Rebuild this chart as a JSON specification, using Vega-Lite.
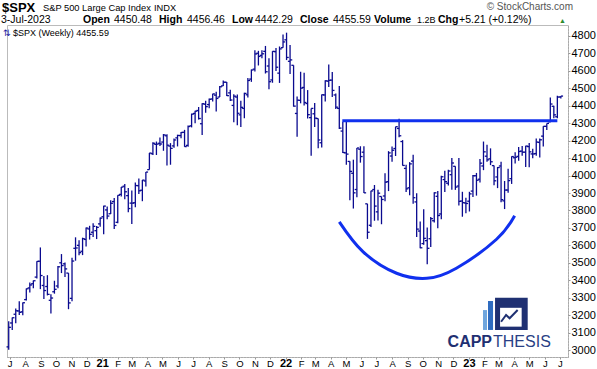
{
  "$schema": "https://vega.github.io/schema/vega-lite/v6.json",
  "width": 561,
  "height": 332,
  "autosize": {"type": "none"},
  "padding": {"left": 7, "top": 25, "right": 29, "bottom": 12},
  "background": "white",
  "config": {
    "view": {"stroke": "#bbbbbb", "strokeWidth": 1},
    "font": "Liberation Sans",
    "text": {"font": "Liberation Sans"}
  },
  "datasets": {
    "spx": [
      {"date":"2020-06-29","open":3018,"high":3165,"low":3001,"close":3130},
      {"date":"2020-07-06","open":3155,"high":3186,"low":3115,"close":3185},
      {"date":"2020-07-13","open":3205,"high":3238,"low":3153,"close":3225},
      {"date":"2020-07-20","open":3224,"high":3280,"low":3201,"close":3216},
      {"date":"2020-07-27","open":3219,"high":3272,"low":3200,"close":3271},
      {"date":"2020-08-03","open":3289,"high":3352,"low":3284,"close":3351},
      {"date":"2020-08-10","open":3356,"high":3387,"low":3330,"close":3373},
      {"date":"2020-08-17","open":3380,"high":3399,"low":3354,"close":3397},
      {"date":"2020-08-24","open":3418,"high":3509,"low":3410,"close":3508},
      {"date":"2020-08-31","open":3509,"high":3588,"low":3349,"close":3427},
      {"date":"2020-09-07","open":3370,"high":3425,"low":3293,"close":3341},
      {"date":"2020-09-14","open":3364,"high":3429,"low":3313,"close":3319},
      {"date":"2020-09-21","open":3285,"high":3320,"low":3209,"close":3298},
      {"date":"2020-09-28","open":3334,"high":3397,"low":3323,"close":3348},
      {"date":"2020-10-05","open":3367,"high":3482,"low":3354,"close":3477},
      {"date":"2020-10-12","open":3500,"high":3550,"low":3441,"close":3484},
      {"date":"2020-10-19","open":3494,"high":3502,"low":3419,"close":3465},
      {"date":"2020-10-26","open":3441,"high":3441,"low":3234,"close":3270},
      {"date":"2020-11-02","open":3296,"high":3529,"low":3279,"close":3510},
      {"date":"2020-11-09","open":3583,"high":3646,"low":3512,"close":3585},
      {"date":"2020-11-16","open":3600,"high":3629,"low":3543,"close":3558},
      {"date":"2020-11-23","open":3566,"high":3644,"low":3544,"close":3638},
      {"date":"2020-11-30","open":3634,"high":3702,"low":3594,"close":3699},
      {"date":"2020-12-07","open":3694,"high":3712,"low":3633,"close":3663},
      {"date":"2020-12-14","open":3675,"high":3726,"low":3648,"close":3709},
      {"date":"2020-12-21","open":3684,"high":3711,"low":3636,"close":3703},
      {"date":"2020-12-28","open":3723,"high":3760,"low":3707,"close":3756},
      {"date":"2021-01-04","open":3764,"high":3827,"low":3663,"close":3825},
      {"date":"2021-01-11","open":3803,"high":3823,"low":3749,"close":3768},
      {"date":"2021-01-18","open":3781,"high":3859,"low":3780,"close":3841},
      {"date":"2021-01-25","open":3851,"high":3871,"low":3694,"close":3714},
      {"date":"2021-02-01","open":3732,"high":3887,"low":3726,"close":3887},
      {"date":"2021-02-08","open":3892,"high":3935,"low":3880,"close":3934},
      {"date":"2021-02-15","open":3939,"high":3951,"low":3864,"close":3907},
      {"date":"2021-02-22","open":3885,"high":3928,"low":3789,"close":3811},
      {"date":"2021-03-01","open":3842,"high":3915,"low":3723,"close":3842},
      {"date":"2021-03-08","open":3844,"high":3960,"low":3819,"close":3943},
      {"date":"2021-03-15","open":3942,"high":3983,"low":3894,"close":3913},
      {"date":"2021-03-22","open":3916,"high":3975,"low":3853,"close":3974},
      {"date":"2021-03-29","open":3969,"high":4020,"low":3937,"close":4020},
      {"date":"2021-04-05","open":4034,"high":4130,"low":4034,"close":4129},
      {"date":"2021-04-12","open":4125,"high":4191,"low":4118,"close":4185},
      {"date":"2021-04-19","open":4179,"high":4195,"low":4118,"close":4180},
      {"date":"2021-04-26","open":4185,"high":4218,"low":4170,"close":4181},
      {"date":"2021-05-03","open":4192,"high":4238,"low":4142,"close":4233},
      {"date":"2021-05-10","open":4228,"high":4237,"low":4057,"close":4174},
      {"date":"2021-05-17","open":4169,"high":4186,"low":4062,"close":4156},
      {"date":"2021-05-24","open":4170,"high":4213,"low":4160,"close":4204},
      {"date":"2021-05-31","open":4216,"high":4234,"low":4167,"close":4230},
      {"date":"2021-06-07","open":4229,"high":4249,"low":4214,"close":4247},
      {"date":"2021-06-14","open":4248,"high":4262,"low":4165,"close":4166},
      {"date":"2021-06-21","open":4173,"high":4287,"low":4165,"close":4281},
      {"date":"2021-06-28","open":4285,"high":4355,"low":4276,"close":4352},
      {"date":"2021-07-05","open":4356,"high":4372,"low":4300,"close":4369},
      {"date":"2021-07-12","open":4373,"high":4393,"low":4321,"close":4327},
      {"date":"2021-07-19","open":4297,"high":4415,"low":4233,"close":4412},
      {"date":"2021-07-26","open":4409,"high":4429,"low":4360,"close":4395},
      {"date":"2021-08-02","open":4407,"high":4441,"low":4386,"close":4437},
      {"date":"2021-08-09","open":4439,"high":4469,"low":4424,"close":4468},
      {"date":"2021-08-16","open":4461,"high":4481,"low":4367,"close":4442},
      {"date":"2021-08-23","open":4450,"high":4513,"low":4450,"close":4509},
      {"date":"2021-08-30","open":4514,"high":4545,"low":4513,"close":4535},
      {"date":"2021-09-06","open":4535,"high":4536,"low":4456,"close":4458},
      {"date":"2021-09-13","open":4474,"high":4492,"low":4427,"close":4433},
      {"date":"2021-09-20","open":4402,"high":4466,"low":4305,"close":4455},
      {"date":"2021-09-27","open":4450,"high":4465,"low":4288,"close":4357},
      {"date":"2021-10-04","open":4348,"high":4429,"low":4278,"close":4391},
      {"date":"2021-10-11","open":4385,"high":4475,"low":4329,"close":4471},
      {"date":"2021-10-18","open":4463,"high":4559,"low":4447,"close":4545},
      {"date":"2021-10-25","open":4553,"high":4608,"low":4537,"close":4605},
      {"date":"2021-11-01","open":4610,"high":4718,"low":4596,"close":4697},
      {"date":"2021-11-08","open":4701,"high":4715,"low":4631,"close":4683},
      {"date":"2021-11-15","open":4689,"high":4718,"low":4672,"close":4698},
      {"date":"2021-11-22","open":4712,"high":4743,"low":4585,"close":4595},
      {"date":"2021-11-29","open":4628,"high":4672,"low":4495,"close":4538},
      {"date":"2021-12-06","open":4548,"high":4713,"low":4532,"close":4712},
      {"date":"2021-12-13","open":4710,"high":4731,"low":4600,"close":4621},
      {"date":"2021-12-20","open":4587,"high":4740,"low":4531,"close":4726},
      {"date":"2021-12-27","open":4733,"high":4808,"low":4733,"close":4766},
      {"date":"2022-01-03","open":4778,"high":4819,"low":4662,"close":4677},
      {"date":"2022-01-10","open":4655,"high":4749,"low":4582,"close":4663},
      {"date":"2022-01-17","open":4632,"high":4632,"low":4395,"close":4398},
      {"date":"2022-01-24","open":4356,"high":4453,"low":4222,"close":4432},
      {"date":"2022-01-31","open":4431,"high":4595,"low":4414,"close":4501},
      {"date":"2022-02-07","open":4505,"high":4590,"low":4401,"close":4419},
      {"date":"2022-02-14","open":4413,"high":4490,"low":4327,"close":4349},
      {"date":"2022-02-21","open":4332,"high":4385,"low":4114,"close":4385},
      {"date":"2022-02-28","open":4354,"high":4416,"low":4279,"close":4329},
      {"date":"2022-03-07","open":4327,"high":4327,"low":4157,"close":4204},
      {"date":"2022-03-14","open":4188,"high":4465,"low":4161,"close":4463},
      {"date":"2022-03-21","open":4462,"high":4546,"low":4424,"close":4543},
      {"date":"2022-03-28","open":4541,"high":4637,"low":4507,"close":4546},
      {"date":"2022-04-04","open":4547,"high":4593,"low":4450,"close":4488},
      {"date":"2022-04-11","open":4462,"high":4471,"low":4381,"close":4392},
      {"date":"2022-04-18","open":4385,"high":4513,"low":4267,"close":4272},
      {"date":"2022-04-25","open":4255,"high":4309,"low":4129,"close":4132},
      {"date":"2022-05-02","open":4130,"high":4308,"low":4062,"close":4123},
      {"date":"2022-05-09","open":4081,"high":4082,"low":3859,"close":4024},
      {"date":"2022-05-16","open":4013,"high":4091,"low":3811,"close":3901},
      {"date":"2022-05-23","open":3920,"high":4158,"low":3875,"close":4158},
      {"date":"2022-05-30","open":4151,"high":4168,"low":4074,"close":4109},
      {"date":"2022-06-06","open":4134,"high":4168,"low":3900,"close":3901},
      {"date":"2022-06-13","open":3838,"high":3838,"low":3637,"close":3675},
      {"date":"2022-06-20","open":3715,"high":3913,"low":3705,"close":3912},
      {"date":"2022-06-27","open":3920,"high":3946,"low":3741,"close":3825},
      {"date":"2022-07-04","open":3792,"high":3918,"low":3742,"close":3899},
      {"date":"2022-07-11","open":3880,"high":3880,"low":3721,"close":3863},
      {"date":"2022-07-18","open":3883,"high":4013,"low":3853,"close":3962},
      {"date":"2022-07-25","open":3965,"high":4140,"low":3911,"close":4130},
      {"date":"2022-08-01","open":4112,"high":4167,"low":4079,"close":4145},
      {"date":"2022-08-08","open":4155,"high":4280,"low":4112,"close":4280},
      {"date":"2022-08-15","open":4270,"high":4325,"low":4219,"close":4228},
      {"date":"2022-08-22","open":4195,"high":4203,"low":4057,"close":4058},
      {"date":"2022-08-29","open":4041,"high":4062,"low":3906,"close":3924},
      {"date":"2022-09-05","open":3930,"high":4077,"low":3887,"close":4067},
      {"date":"2022-09-12","open":4083,"high":4119,"low":3838,"close":3873},
      {"date":"2022-09-19","open":3849,"high":3899,"low":3648,"close":3693},
      {"date":"2022-09-26","open":3682,"high":3736,"low":3584,"close":3586},
      {"date":"2022-10-03","open":3610,"high":3807,"low":3603,"close":3640},
      {"date":"2022-10-10","open":3627,"high":3703,"low":3492,"close":3583},
      {"date":"2022-10-17","open":3638,"high":3762,"low":3591,"close":3753},
      {"date":"2022-10-24","open":3741,"high":3905,"low":3731,"close":3901},
      {"date":"2022-10-31","open":3881,"high":3911,"low":3698,"close":3771},
      {"date":"2022-11-07","open":3780,"high":3999,"low":3749,"close":3993},
      {"date":"2022-11-14","open":3977,"high":4028,"low":3906,"close":3965},
      {"date":"2022-11-21","open":3956,"high":4034,"low":3943,"close":4026},
      {"date":"2022-11-28","open":4005,"high":4100,"low":3919,"close":4072},
      {"date":"2022-12-05","open":4053,"high":4053,"low":3918,"close":3934},
      {"date":"2022-12-12","open":3940,"high":4101,"low":3828,"close":3852},
      {"date":"2022-12-19","open":3854,"high":3907,"low":3764,"close":3845},
      {"date":"2022-12-26","open":3843,"high":3873,"low":3784,"close":3840},
      {"date":"2023-01-02","open":3853,"high":3907,"low":3794,"close":3895},
      {"date":"2023-01-09","open":3911,"high":4003,"low":3877,"close":3999},
      {"date":"2023-01-16","open":3999,"high":4015,"low":3885,"close":3973},
      {"date":"2023-01-23","open":3979,"high":4095,"low":3960,"close":4071},
      {"date":"2023-01-30","open":4055,"high":4195,"low":4031,"close":4136},
      {"date":"2023-02-06","open":4111,"high":4176,"low":4079,"close":4090},
      {"date":"2023-02-13","open":4096,"high":4156,"low":4060,"close":4079},
      {"date":"2023-02-20","open":4057,"high":4057,"low":3944,"close":3970},
      {"date":"2023-02-27","open":3992,"high":4049,"low":3928,"close":4046},
      {"date":"2023-03-06","open":4055,"high":4079,"low":3847,"close":3862},
      {"date":"2023-03-13","open":3855,"high":3969,"low":3808,"close":3917},
      {"date":"2023-03-20","open":3917,"high":4039,"low":3901,"close":3971},
      {"date":"2023-03-27","open":3982,"high":4110,"low":3952,"close":4109},
      {"date":"2023-04-03","open":4102,"high":4133,"low":4069,"close":4105},
      {"date":"2023-04-10","open":4110,"high":4164,"low":4085,"close":4138},
      {"date":"2023-04-17","open":4140,"high":4170,"low":4114,"close":4134},
      {"date":"2023-04-24","open":4134,"high":4171,"low":4049,"close":4169},
      {"date":"2023-05-01","open":4166,"high":4186,"low":4048,"close":4136},
      {"date":"2023-05-08","open":4124,"high":4154,"low":4099,"close":4124},
      {"date":"2023-05-15","open":4126,"high":4212,"low":4114,"close":4192},
      {"date":"2023-05-22","open":4190,"high":4212,"low":4103,"close":4205},
      {"date":"2023-05-29","open":4226,"high":4283,"low":4167,"close":4282},
      {"date":"2023-06-05","open":4282,"high":4299,"low":4261,"close":4299},
      {"date":"2023-06-12","open":4308,"high":4448,"low":4305,"close":4410},
      {"date":"2023-06-19","open":4397,"high":4400,"low":4328,"close":4348},
      {"date":"2023-06-26","open":4337,"high":4458,"low":4328,"close":4450},
      {"date":"2023-07-03","open":4450.48,"high":4456.46,"low":4442.29,"close":4455.59}
    ],
    "curve": [
      {"date":"2022-04-18","price":3735},
      {"date":"2022-06-04","price":3564},
      {"date":"2022-08-10","price":3440},
      {"date":"2022-10-09","price":3411},
      {"date":"2022-12-07","price":3469},
      {"date":"2023-02-25","price":3635},
      {"date":"2023-04-02","price":3770}
    ],
    "arrow": [
      {"date":"2023-03-06","price":3162},
      {"date":"2023-03-16","price":3201},
      {"date":"2023-03-23","price":3182},
      {"date":"2023-04-08","price":3229}
    ]
  },
  "encoding": {
    "x": {
      "field": "date", "type": "temporal",
      "scale": {"type": "utc", "domain": ["2020-06-25T14:00:00Z", "2023-07-17T05:00:00Z"]},
      "axis": {
        "title": null, "grid": false, "orient": "bottom",
        "tickCount": {"interval": "month", "step": 1},
        "labelExpr": "utcmonth(datum.value) == 0 ? utcFormat(datum.value, '%y') : slice(utcFormat(datum.value, '%b'), 0, 1)",
        "labelFontWeight": {"condition": {"test": "utcmonth(datum.value) == 0", "value": "bold"}, "value": "normal"},
        "labelFontSize": {"condition": {"test": "utcmonth(datum.value) == 0", "value": 11}, "value": 9.5},
        "labelColor": "#000000", "labelFont": "Liberation Sans",
        "labelBaseline": "middle", "labelPadding": 4,
        "labelOverlap": false, "labelFlush": false,
        "domainColor": "#999999", "domainDash": [1, 2], "ticks": true, "tickSize": 2, "tickColor": "#999999"
      }
    },
    "y": {
      "type": "quantitative",
      "scale": {"domain": [2960, 4863], "nice": false, "zero": false},
      "axis": {
        "title": null, "grid": false, "orient": "right", "format": "d",
        "values": [3000,3100,3200,3300,3400,3500,3600,3700,3800,3900,4000,4100,4200,4300,4400,4500,4600,4700,4800],
        "labelFontSize": 11, "labelColor": "#000000", "labelFont": "Liberation Sans", "labelPadding": 1,
        "domainColor": "#999999", "domainDash": [1, 2], "tickSize": 2, "tickColor": "#999999"
      }
    }
  },
  "layer": [
    {
      "data": {"name": "spx"},
      "mark": {"type": "rule", "color": "#0a0a8f", "strokeWidth": 1.3},
      "encoding": {"y": {"field": "low", "type": "quantitative"}, "y2": {"field": "high"}}
    },
    {
      "data": {"name": "spx"},
      "mark": {"type": "rule", "color": "#0a0a8f", "strokeWidth": 1.3, "xOffset": -2.2, "x2Offset": 0},
      "encoding": {"x2": {"field": "date"}, "y": {"field": "open", "type": "quantitative"}}
    },
    {
      "data": {"name": "spx"},
      "mark": {"type": "rule", "color": "#0a0a8f", "strokeWidth": 1.3, "xOffset": 0, "x2Offset": 2.2},
      "encoding": {"x2": {"field": "date"}, "y": {"field": "close", "type": "quantitative"}}
    },
    {
      "data": {"values": [{"date": "2022-04-24", "date2": "2023-06-26", "price": 4314}]},
      "mark": {"type": "rule", "color": "#1030ee", "strokeWidth": 3},
      "encoding": {"x2": {"field": "date2"}, "y": {"field": "price", "type": "quantitative"}}
    },
    {
      "data": {"name": "curve"},
      "mark": {"type": "line", "color": "#1030ee", "strokeWidth": 3, "interpolate": "natural"},
      "encoding": {"y": {"field": "price", "type": "quantitative"}}
    },
    {
      "data": {"values": [{"date": "2023-01-29", "date2": "2023-02-06", "price": 3229, "price2": 3115}]},
      "mark": {"type": "rect", "color": "#6fa6de"},
      "encoding": {"x2": {"field": "date2"}, "y": {"field": "price", "type": "quantitative"}, "y2": {"field": "price2"}}
    },
    {
      "data": {"values": [{"date": "2023-02-08", "date2": "2023-02-18", "price": 3281, "price2": 3115}]},
      "mark": {"type": "rect", "color": "#2f6cc0"},
      "encoding": {"x2": {"field": "date2"}, "y": {"field": "price", "type": "quantitative"}, "y2": {"field": "price2"}}
    },
    {
      "data": {"values": [{"date": "2023-02-22", "date2": "2023-04-28", "price": 3300, "price2": 3115}]},
      "mark": {"type": "rect", "color": "#1f3072"},
      "encoding": {"x2": {"field": "date2"}, "y": {"field": "price", "type": "quantitative"}, "y2": {"field": "price2"}}
    },
    {
      "data": {"values": [{"date": "2023-03-04", "date2": "2023-04-16", "price": 3242, "price2": 3134}]},
      "mark": {"type": "rect", "color": "#ffffff"},
      "encoding": {"x2": {"field": "date2"}, "y": {"field": "price", "type": "quantitative"}, "y2": {"field": "price2"}}
    },
    {
      "data": {"name": "arrow"},
      "mark": {"type": "line", "color": "#1f3072", "strokeWidth": 2},
      "encoding": {"y": {"field": "price", "type": "quantitative"}}
    },
    {
      "data": {"values": [{"date": "2023-02-16", "price": 3017, "label": "CAPP"}]},
      "mark": {"type": "text", "font": "Liberation Sans", "fontSize": 16, "fontWeight": "bold", "color": "#1f3072", "align": "right", "baseline": "alphabetic"},
      "encoding": {"y": {"field": "price", "type": "quantitative"}, "text": {"field": "label"}}
    },
    {
      "data": {"values": [{"date": "2023-02-18", "price": 3017, "label": "THESIS"}]},
      "mark": {"type": "text", "font": "Liberation Sans", "fontSize": 16, "fontWeight": "normal", "color": "#2a3f85", "align": "left", "baseline": "alphabetic"},
      "encoding": {"y": {"field": "price", "type": "quantitative"}, "text": {"field": "label"}}
    },
    {"data": {"values": [{}]}, "mark": {"type": "text", "text": "$SPX", "fontSize": 13, "fontWeight": "bold", "align": "left", "baseline": "middle", "color": "#000000"}, "encoding": {"x": {"value": -5}, "y": {"value": -17.5}}},
    {"data": {"values": [{}]}, "mark": {"type": "text", "text": "S&P 500 Large Cap Index", "fontSize": 9.3, "align": "left", "baseline": "middle", "color": "#000000"}, "encoding": {"x": {"value": 36}, "y": {"value": -17.5}}},
    {"data": {"values": [{}]}, "mark": {"type": "text", "text": "INDX", "fontSize": 9.3, "align": "left", "baseline": "middle", "color": "#000000"}, "encoding": {"x": {"value": 147}, "y": {"value": -17.5}}},
    {"data": {"values": [{}]}, "mark": {"type": "text", "text": "© StockCharts.com", "fontSize": 10, "align": "right", "baseline": "middle", "color": "#555555"}, "encoding": {"x": {"value": 566}, "y": {"value": -18.5}}},
    {"data": {"values": [{}]}, "mark": {"type": "text", "text": "3-Jul-2023", "fontSize": 10.5, "align": "left", "baseline": "middle", "color": "#000000"}, "encoding": {"x": {"value": -6}, "y": {"value": -5}}},
    {"data": {"values": [{}]}, "mark": {"type": "text", "text": "Open", "fontSize": 10.5, "fontWeight": "bold", "align": "left", "baseline": "middle", "color": "#000000"}, "encoding": {"x": {"value": 76}, "y": {"value": -5}}},
    {"data": {"values": [{}]}, "mark": {"type": "text", "text": "4450.48", "fontSize": 10.5, "align": "left", "baseline": "middle", "color": "#000000"}, "encoding": {"x": {"value": 107}, "y": {"value": -5}}},
    {"data": {"values": [{}]}, "mark": {"type": "text", "text": "High", "fontSize": 10.5, "fontWeight": "bold", "align": "left", "baseline": "middle", "color": "#000000"}, "encoding": {"x": {"value": 152}, "y": {"value": -5}}},
    {"data": {"values": [{}]}, "mark": {"type": "text", "text": "4456.46", "fontSize": 10.5, "align": "left", "baseline": "middle", "color": "#000000"}, "encoding": {"x": {"value": 180}, "y": {"value": -5}}},
    {"data": {"values": [{}]}, "mark": {"type": "text", "text": "Low", "fontSize": 10.5, "fontWeight": "bold", "align": "left", "baseline": "middle", "color": "#000000"}, "encoding": {"x": {"value": 225}, "y": {"value": -5}}},
    {"data": {"values": [{}]}, "mark": {"type": "text", "text": "4442.29", "fontSize": 10.5, "align": "left", "baseline": "middle", "color": "#000000"}, "encoding": {"x": {"value": 248}, "y": {"value": -5}}},
    {"data": {"values": [{}]}, "mark": {"type": "text", "text": "Close", "fontSize": 10.5, "fontWeight": "bold", "align": "left", "baseline": "middle", "color": "#000000"}, "encoding": {"x": {"value": 293}, "y": {"value": -5}}},
    {"data": {"values": [{}]}, "mark": {"type": "text", "text": "4455.59", "fontSize": 10.5, "align": "left", "baseline": "middle", "color": "#000000"}, "encoding": {"x": {"value": 326}, "y": {"value": -5}}},
    {"data": {"values": [{}]}, "mark": {"type": "text", "text": "Volume", "fontSize": 10.5, "fontWeight": "bold", "align": "left", "baseline": "middle", "color": "#000000"}, "encoding": {"x": {"value": 367}, "y": {"value": -5}}},
    {"data": {"values": [{}]}, "mark": {"type": "text", "text": "1.2B", "fontSize": 9, "align": "left", "baseline": "middle", "color": "#000000"}, "encoding": {"x": {"value": 410}, "y": {"value": -5}}},
    {"data": {"values": [{}]}, "mark": {"type": "text", "text": "Chg", "fontSize": 10.5, "fontWeight": "bold", "align": "left", "baseline": "middle", "color": "#000000"}, "encoding": {"x": {"value": 431}, "y": {"value": -5}}},
    {"data": {"values": [{}]}, "mark": {"type": "text", "text": "+5.21 (+0.12%)", "fontSize": 10.5, "align": "left", "baseline": "middle", "color": "#000000"}, "encoding": {"x": {"value": 452}, "y": {"value": -5}}},
    {"data": {"values": [{}]}, "mark": {"type": "text", "text": "▲", "fontSize": 7, "align": "left", "baseline": "middle", "color": "#2e8b2e"}, "encoding": {"x": {"value": 552}, "y": {"value": -4.5}}},
    {"data": {"values": [{}]}, "mark": {"type": "text", "text": "⇅", "font": "DejaVu Sans", "fontSize": 9, "align": "left", "baseline": "middle", "color": "#1a1aa0"}, "encoding": {"x": {"value": -4}, "y": {"value": 8}}},
    {"data": {"values": [{}]}, "mark": {"type": "text", "text": "$SPX (Weekly) 4455.59", "fontSize": 9, "align": "left", "baseline": "middle", "color": "#000000"}, "encoding": {"x": {"value": 6}, "y": {"value": 8}}}
  ]
}
